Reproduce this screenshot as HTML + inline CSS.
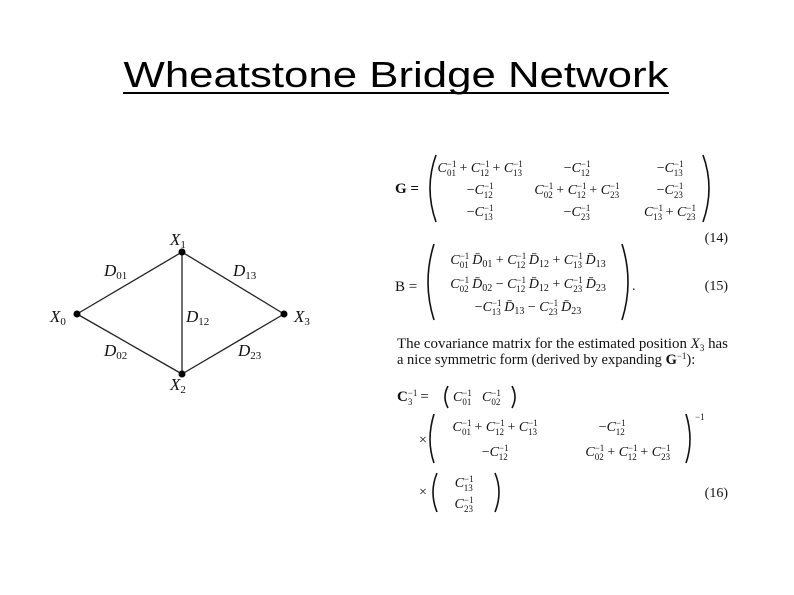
<!DOCTYPE html>
<html><head><meta charset="utf-8"><style>
html,body{margin:0;padding:0;background:#fff;}
svg{display:block;}
.t{font-family:"Liberation Serif",serif;fill:#111;}
</style></head><body>
<svg width="794" height="595" viewBox="0 0 794 595" xmlns="http://www.w3.org/2000/svg">
<text x="396" y="87" text-anchor="middle" font-family="Liberation Sans, sans-serif" font-size="36" textLength="545" lengthAdjust="spacingAndGlyphs" fill="#000">Wheatstone Bridge Network</text>
<rect x="123" y="92" width="546" height="2" fill="#000"/>

<g stroke="#222" stroke-width="1.3" fill="none">
<line x1="77" y1="314" x2="182" y2="252"/>
<line x1="182" y1="252" x2="284" y2="314"/>
<line x1="77" y1="314" x2="182" y2="374"/>
<line x1="182" y1="374" x2="284" y2="314"/>
<line x1="182" y1="252" x2="182" y2="374"/>
</g>
<g fill="#000">
<circle cx="182" cy="252" r="3.5"/><circle cx="77" cy="314" r="3.5"/>
<circle cx="284" cy="314" r="3.5"/><circle cx="182" cy="374" r="3.5"/>
</g>
<g class="t" font-size="17" font-style="italic">
<text x="170" y="245">X<tspan font-size="11" font-style="normal" dy="3">1</tspan></text>
<text x="50" y="322">X<tspan font-size="11" font-style="normal" dy="3">0</tspan></text>
<text x="294" y="322">X<tspan font-size="11" font-style="normal" dy="3">3</tspan></text>
<text x="170" y="390">X<tspan font-size="11" font-style="normal" dy="3">2</tspan></text>
<text x="104" y="276">D<tspan font-size="11" font-style="normal" dy="3">01</tspan></text>
<text x="233" y="276">D<tspan font-size="11" font-style="normal" dy="3">13</tspan></text>
<text x="186" y="322">D<tspan font-size="11" font-style="normal" dy="3">12</tspan></text>
<text x="104" y="356">D<tspan font-size="11" font-style="normal" dy="3">02</tspan></text>
<text x="238" y="356">D<tspan font-size="11" font-style="normal" dy="3">23</tspan></text>
</g>

<g class="t" font-size="14">
<text x="395" y="193" font-weight="bold" font-size="15">G =</text>
<g stroke="#111" stroke-width="1.6" fill="none">
<path d="M436 155 Q424 188 436 222"/><path d="M703 155 Q715 188 703 222"/>
<path d="M434 244 Q422 282 434 320"/><path d="M622 244 Q634 282 622 320"/>
<path d="M448 386 Q442 397 448 408"/><path d="M512 386 Q518 397 512 408"/>
<path d="M434 414 Q426 440 434 463"/><path d="M686 414 Q694 440 686 463"/>
<path d="M437 473 Q429 492 437 512"/><path d="M495 473 Q503 492 495 512"/>
</g>
<g text-anchor="middle">
<text x="480" y="172"><tspan font-style="italic">C</tspan><tspan font-size="9" dy="-5">−1</tspan><tspan font-size="9" dy="9" dx="-9.5">01</tspan><tspan dy="-4"> + </tspan><tspan font-style="italic">C</tspan><tspan font-size="9" dy="-5">−1</tspan><tspan font-size="9" dy="9" dx="-9.5">12</tspan><tspan dy="-4"> + </tspan><tspan font-style="italic">C</tspan><tspan font-size="9" dy="-5">−1</tspan><tspan font-size="9" dy="9" dx="-9.5">13</tspan></text>
<text x="577" y="172">−<tspan font-style="italic">C</tspan><tspan font-size="9" dy="-5">−1</tspan><tspan font-size="9" dy="9" dx="-9.5">12</tspan></text>
<text x="670" y="172">−<tspan font-style="italic">C</tspan><tspan font-size="9" dy="-5">−1</tspan><tspan font-size="9" dy="9" dx="-9.5">13</tspan></text>
<text x="480" y="194">−<tspan font-style="italic">C</tspan><tspan font-size="9" dy="-5">−1</tspan><tspan font-size="9" dy="9" dx="-9.5">12</tspan></text>
<text x="577" y="194"><tspan font-style="italic">C</tspan><tspan font-size="9" dy="-5">−1</tspan><tspan font-size="9" dy="9" dx="-9.5">02</tspan><tspan dy="-4"> + </tspan><tspan font-style="italic">C</tspan><tspan font-size="9" dy="-5">−1</tspan><tspan font-size="9" dy="9" dx="-9.5">12</tspan><tspan dy="-4"> + </tspan><tspan font-style="italic">C</tspan><tspan font-size="9" dy="-5">−1</tspan><tspan font-size="9" dy="9" dx="-9.5">23</tspan></text>
<text x="670" y="194">−<tspan font-style="italic">C</tspan><tspan font-size="9" dy="-5">−1</tspan><tspan font-size="9" dy="9" dx="-9.5">23</tspan></text>
<text x="480" y="216">−<tspan font-style="italic">C</tspan><tspan font-size="9" dy="-5">−1</tspan><tspan font-size="9" dy="9" dx="-9.5">13</tspan></text>
<text x="577" y="216">−<tspan font-style="italic">C</tspan><tspan font-size="9" dy="-5">−1</tspan><tspan font-size="9" dy="9" dx="-9.5">23</tspan></text>
<text x="670" y="216"><tspan font-style="italic">C</tspan><tspan font-size="9" dy="-5">−1</tspan><tspan font-size="9" dy="9" dx="-9.5">13</tspan><tspan dy="-4"> + </tspan><tspan font-style="italic">C</tspan><tspan font-size="9" dy="-5">−1</tspan><tspan font-size="9" dy="9" dx="-9.5">23</tspan></text>

<text x="528" y="264"><tspan font-style="italic">C</tspan><tspan font-size="9" dy="-5">−1</tspan><tspan font-size="9" dy="9" dx="-9.5">01</tspan><tspan dy="-4" font-style="italic"> D̄</tspan><tspan font-size="10" dy="3">01</tspan><tspan dy="-3"> + </tspan><tspan font-style="italic">C</tspan><tspan font-size="9" dy="-5">−1</tspan><tspan font-size="9" dy="9" dx="-9.5">12</tspan><tspan dy="-4" font-style="italic"> D̄</tspan><tspan font-size="10" dy="3">12</tspan><tspan dy="-3"> + </tspan><tspan font-style="italic">C</tspan><tspan font-size="9" dy="-5">−1</tspan><tspan font-size="9" dy="9" dx="-9.5">13</tspan><tspan dy="-4" font-style="italic"> D̄</tspan><tspan font-size="10" dy="3">13</tspan></text>
<text x="528" y="288"><tspan font-style="italic">C</tspan><tspan font-size="9" dy="-5">−1</tspan><tspan font-size="9" dy="9" dx="-9.5">02</tspan><tspan dy="-4" font-style="italic"> D̄</tspan><tspan font-size="10" dy="3">02</tspan><tspan dy="-3"> − </tspan><tspan font-style="italic">C</tspan><tspan font-size="9" dy="-5">−1</tspan><tspan font-size="9" dy="9" dx="-9.5">12</tspan><tspan dy="-4" font-style="italic"> D̄</tspan><tspan font-size="10" dy="3">12</tspan><tspan dy="-3"> + </tspan><tspan font-style="italic">C</tspan><tspan font-size="9" dy="-5">−1</tspan><tspan font-size="9" dy="9" dx="-9.5">23</tspan><tspan dy="-4" font-style="italic"> D̄</tspan><tspan font-size="10" dy="3">23</tspan></text>
<text x="528" y="311">−<tspan font-style="italic">C</tspan><tspan font-size="9" dy="-5">−1</tspan><tspan font-size="9" dy="9" dx="-9.5">13</tspan><tspan dy="-4" font-style="italic"> D̄</tspan><tspan font-size="10" dy="3">13</tspan><tspan dy="-3"> − </tspan><tspan font-style="italic">C</tspan><tspan font-size="9" dy="-5">−1</tspan><tspan font-size="9" dy="9" dx="-9.5">23</tspan><tspan dy="-4" font-style="italic"> D̄</tspan><tspan font-size="10" dy="3">23</tspan></text>

<text x="495" y="431"><tspan font-style="italic">C</tspan><tspan font-size="9" dy="-5">−1</tspan><tspan font-size="9" dy="9" dx="-9.5">01</tspan><tspan dy="-4"> + </tspan><tspan font-style="italic">C</tspan><tspan font-size="9" dy="-5">−1</tspan><tspan font-size="9" dy="9" dx="-9.5">12</tspan><tspan dy="-4"> + </tspan><tspan font-style="italic">C</tspan><tspan font-size="9" dy="-5">−1</tspan><tspan font-size="9" dy="9" dx="-9.5">13</tspan></text>
<text x="612" y="431">−<tspan font-style="italic">C</tspan><tspan font-size="9" dy="-5">−1</tspan><tspan font-size="9" dy="9" dx="-9.5">12</tspan></text>
<text x="495" y="456">−<tspan font-style="italic">C</tspan><tspan font-size="9" dy="-5">−1</tspan><tspan font-size="9" dy="9" dx="-9.5">12</tspan></text>
<text x="628" y="456"><tspan font-style="italic">C</tspan><tspan font-size="9" dy="-5">−1</tspan><tspan font-size="9" dy="9" dx="-9.5">02</tspan><tspan dy="-4"> + </tspan><tspan font-style="italic">C</tspan><tspan font-size="9" dy="-5">−1</tspan><tspan font-size="9" dy="9" dx="-9.5">12</tspan><tspan dy="-4"> + </tspan><tspan font-style="italic">C</tspan><tspan font-size="9" dy="-5">−1</tspan><tspan font-size="9" dy="9" dx="-9.5">23</tspan></text>
<text x="464" y="487"><tspan font-style="italic">C</tspan><tspan font-size="9" dy="-5">−1</tspan><tspan font-size="9" dy="9" dx="-9.5">13</tspan></text>
<text x="464" y="508"><tspan font-style="italic">C</tspan><tspan font-size="9" dy="-5">−1</tspan><tspan font-size="9" dy="9" dx="-9.5">23</tspan></text>
</g>
<text x="395" y="291" font-size="15">B =</text>
<text x="632" y="290">.</text>
<text x="728" y="242" text-anchor="end" font-size="14">(14)</text>
<text x="728" y="290" text-anchor="end" font-size="14">(15)</text>
<text x="728" y="497" text-anchor="end" font-size="14">(16)</text>
<text x="397" y="348" font-size="14.5" textLength="331" lengthAdjust="spacingAndGlyphs">The covariance matrix for the estimated position <tspan font-style="italic">X</tspan><tspan font-size="9" dy="3">3</tspan><tspan dy="-3"> has</tspan></text>
<text x="397" y="364" font-size="14.5">a nice symmetric form (derived by expanding <tspan font-weight="bold">G</tspan><tspan font-size="9" dy="-5">−1</tspan><tspan dy="5">):</tspan></text>
<text x="397" y="401"><tspan font-weight="bold" font-size="15">C</tspan><tspan font-size="9" dy="-5">−1</tspan><tspan font-size="9" dy="9" dx="-9.5">3</tspan><tspan dy="-4" dx="8" font-size="15">=</tspan></text>
<text x="453" y="401"><tspan font-style="italic">C</tspan><tspan font-size="9" dy="-5">−1</tspan><tspan font-size="9" dy="9" dx="-9.5">01</tspan></text>
<text x="482" y="401"><tspan font-style="italic">C</tspan><tspan font-size="9" dy="-5">−1</tspan><tspan font-size="9" dy="9" dx="-9.5">02</tspan></text>
<text x="419" y="444">×</text>
<text x="419" y="496">×</text>
<text x="695" y="420" font-size="9">−1</text>
</g>
</svg>
</body></html>
